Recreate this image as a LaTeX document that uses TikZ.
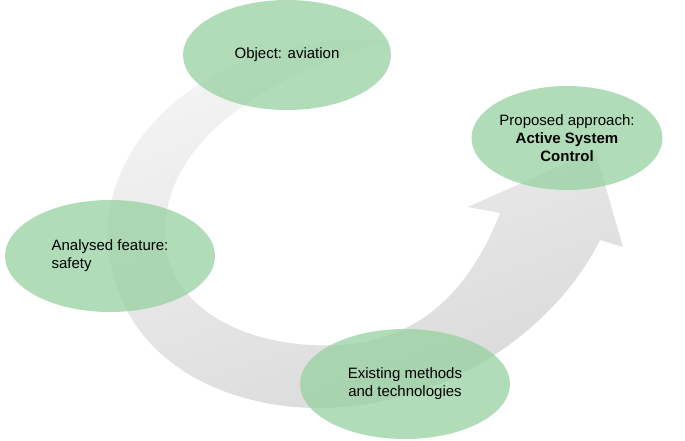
\documentclass[tikz,border=0pt]{standalone}
\usepackage{fontspec}
\setmainfont{Liberation Sans}
\usetikzlibrary{shapes.geometric}
\definecolor{leaf}{RGB}{150,210,160}
\begin{document}
\begin{tikzpicture}[x=1pt,y=-1pt,
  bubble/.style={ellipse,fill=leaf,fill opacity=0.75,text opacity=1,inner sep=0pt,align=center,font=\fontsize{15}{18}\selectfont}]
\useasboundingbox (0,0) rectangle (685,441);
\shade[top color=gray!8,bottom color=gray!30,shading angle=20]
 (390,40) .. controls (200,30) and (90,150) .. (110,260)
 .. controls (130,380) and (260,420) .. (360,405)
 .. controls (470,390) and (560,320) .. (600,240)
 -- (623,247) -- (595,150) -- (468,207) -- (500,213)
 .. controls (470,290) and (420,340) .. (340,345)
 .. controls (250,350) and (170,310) .. (165,240)
 .. controls (160,150) and (250,80) .. (390,40) -- cycle;
\node[bubble,minimum width=208pt,minimum height=110pt] (obj) at (287,55) {Object: aviation};
\node[bubble,minimum width=190pt,minimum height=104pt] (prop) at (567,138) {Proposed approach:\\\textbf{Active System}\\\textbf{Control}};
\node[bubble,minimum width=210pt,minimum height=112pt,align=left] (ana) at (110,256) {Analysed feature:\hspace{14pt}\\safety};
\node[bubble,minimum width=210pt,minimum height=110pt] (ex) at (405,384) {Existing methods\\and technologies};
\end{tikzpicture}
\end{document}
